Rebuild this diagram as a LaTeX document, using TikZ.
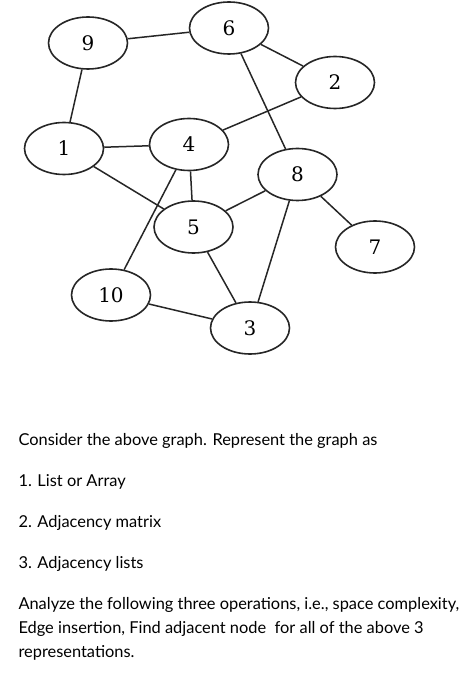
\documentclass[tikz,border=0pt]{standalone}
\usepackage{fontspec}
\setmainfont{Lato}
\newfontfamily\nodefont{DejaVu Serif}
\usetikzlibrary{shapes.geometric}
\begin{document}
\begin{tikzpicture}[x=1pt,y=-1pt,
  vtx/.style={ellipse,draw=black!85,line width=1.6pt,minimum width=79pt,minimum height=52pt,inner sep=0pt,font=\nodefont\fontsize{20}{24}\selectfont},
  edge/.style={draw=black!85,line width=1.5pt},
  txt/.style={anchor=base west,inner sep=0pt,font=\fontsize{16.4}{24}\selectfont}]
\useasboundingbox (0,0) rectangle (459,700);
\node[vtx] (n9) at (88,43) {9};
\node[vtx] (n6) at (229,28) {6};
\node[vtx] (n2) at (335,82.5) {2};
\node[vtx] (n1) at (64,148.5) {1};
\node[vtx] (n4) at (189,144.5) {4};
\node[vtx] (n8) at (297.5,174.5) {8};
\node[vtx] (n5) at (193.5,227) {5};
\node[vtx] (n7) at (375,247) {7};
\node[vtx] (n10) at (111,295) {10};
\node[vtx] (n3) at (250,328) {3};
\draw[edge] (n9) -- (n6);
\draw[edge] (n9) -- (n1);
\draw[edge] (n6) -- (n2);
\draw[edge] (n6) -- (n8);
\draw[edge] (n2) -- (n4);
\draw[edge] (n1) -- (n4);
\draw[edge] (n1) -- (n5);
\draw[edge] (n4) -- (n5);
\draw[edge] (n4) -- (n10);
\draw[edge] (n8) -- (n5);
\draw[edge] (n8) -- (n7);
\draw[edge] (n8) -- (n3);
\draw[edge] (n5) -- (n3);
\draw[edge] (n10) -- (n3);
\node[txt] (t1) at (18.3,445) {Consider the above graph. Represent the graph as};
\node[txt] (t2) at (18.3,486) {1. List or Array};
\node[txt] (t3) at (18.3,527) {2. Adjacency matrix};
\node[txt] (t4) at (18.3,568) {3. Adjacency lists};
\node[txt] (t5) at (18.3,609.5) {Analyze the following three operations, i.e., space complexity,};
\node[txt] (t6) at (18.3,633.5) {Edge insertion, Find adjacent node\ \ for all of the above 3};
\node[txt] (t7) at (18.3,657.5) {representations.};
\end{tikzpicture}
\end{document}
